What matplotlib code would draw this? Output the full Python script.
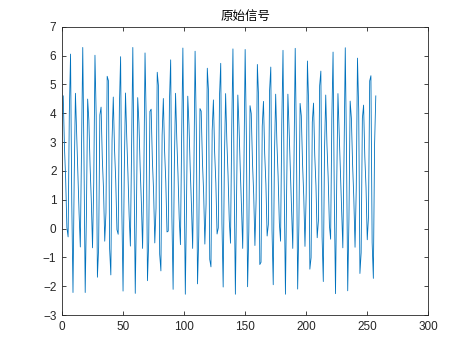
import numpy as np
from matplotlib import pyplot as plt

# samples (257 points, plotted against 1..257)
sig_first = [4.60, 2.84, 1.71, 0.03, -0.29, 4.02, 6.05, 0.90, -2.22, 1.77,
	4.69, 3.27, 1.95, 0.52, -0.64, 2.78, 6.28, 2.43, -2.22, 0.52,
	4.49, 3.75, 2.18, 0.97, -0.67, 1.58, 6.01, 3.90, -1.69, -0.66,
	3.94, 4.21, 2.44, 1.36, -0.44, 0.55, 5.28, 5.13, -0.70, -1.61,
	3.08, 4.56, 2.78, 1.67, -0.04, -0.20, 4.22, 5.96, 0.65, -2.17,
	1.97, 4.70, 3.20, 1.91, 0.43, -0.61, 2.99, 6.28, 2.17, -2.25,
	0.73, 4.54, 3.67, 2.14, 0.90, -0.69, 1.77, 6.09, 3.67, -1.81,
	-0.47, 4.06, 4.14, 2.39, 1.30, -0.50, 0.70, 5.42, 4.95, -0.89,
	-1.47, 3.24, 4.51, 2.72, 1.63, -0.12, -0.09, 4.41, 5.85, 0.41,
	-2.11, 2.16, 4.69, 3.12, 1.88, 0.35, -0.56, 3.20, 6.26, 1.91,
	-2.28, 0.94, 4.59, 3.59, 2.10, 0.83, -0.69, 1.97, 6.15, 3.43,
	-1.92, -0.28, 4.16, 4.07, 2.34, 1.24, -0.54, 0.86, 5.56, 4.76,
	-1.07, -1.33, 3.40, 4.46, 2.66, 1.58, -0.19, 0.02]

sig_second = [4.60, 5.73, 0.17, -2.03, 2.36, 4.68, 3.05, 1.84, 0.27, -0.51,
	3.41, 6.23, 1.66, -2.28, 1.15, 4.63, 3.51, 2.06, 0.75, -0.69,
	2.17, 6.21, 3.19, -2.02, -0.09, 4.26, 3.99, 2.30, 1.18, -0.59,
	1.03, 5.69, 4.56, -1.25, -1.17, 3.55, 4.41, 2.60, 1.53, -0.26,
	0.14, 4.78, 5.60, -0.06, -1.95, 2.55, 4.66, 2.98, 1.80, 0.19,
	-0.44, 3.62, 6.18, 1.40, -2.28, 1.36, 4.66, 3.43, 2.02, 0.67,
	-0.69, 2.37, 6.25, 2.94, -2.10, 0.11, 4.34, 3.91, 2.26, 1.11,
	-0.62, 1.21, 5.81, 4.35, -1.41, -1.01, 3.69, 4.35, 2.54, 1.48,
	-0.32, 0.27, 4.95, 5.46, -0.28, -1.84, 2.73, 4.63, 2.91, 1.76,
	0.11, -0.37, 3.82, 6.12, 1.15, -2.26, 1.56, 4.68, 3.35, 1.99,
	0.59, -0.67, 2.58, 6.27, 2.68, -2.16, 0.32, 4.42, 3.83, 2.22,
	1.04, -0.65, 1.39, 5.91, 4.13, -1.56, -0.84, 3.82, 4.28, 2.49,
	1.42, -0.39, 0.40, 5.12, 5.30, -0.49, -1.73, 2.91, 4.60]

title_text = '原始信号'
xticks = [0, 50, 100, 150, 200, 250, 300]
yticks = [-3, -2, -1, 0, 1, 2, 3, 4, 5, 6, 7]

signal = np.array(sig_first + sig_second)
idx = np.arange(1, len(signal)+1)

plt.rcParams['font.family'] = ['Liberation Sans', 'DejaVu Sans']
axcol = '#262626'

fig = plt.figure(figsize=(4.74, 3.55), dpi=100)
ax = fig.add_axes([62/474, 40/355, 366.3/474, 288.3/355])
ax.plot(idx, signal, color='#0072BD', lw=0.6)
ax.set_xlim(0, 300)
ax.set_ylim(-3, 7)
ax.set_xticks(xticks)
ax.set_yticks(yticks)
ax.tick_params(direction='in', top=True, right=True, length=3, width=0.6,
	colors=axcol, labelsize=8.5, pad=4)
for s in ax.spines.values():
	s.set_color(axcol)
	s.set_linewidth(0.6)
ax.set_title(title_text, fontsize=9, color='black', pad=5,
	family=['Noto Sans CJK SC', 'DejaVu Sans'])

fig.savefig('out.png', dpi=100)
